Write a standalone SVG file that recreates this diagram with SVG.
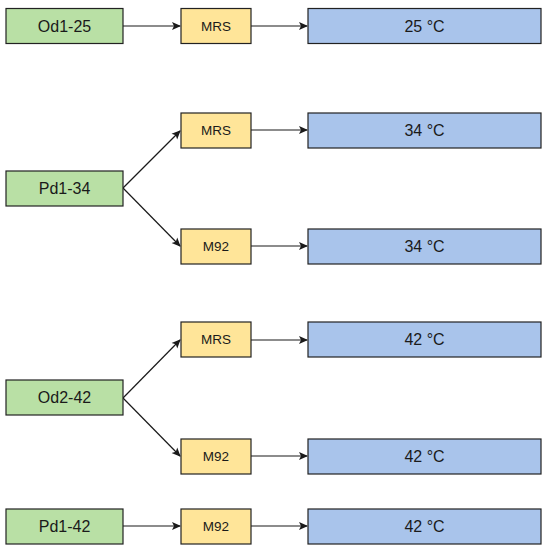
<svg xmlns="http://www.w3.org/2000/svg" width="550" height="549" viewBox="0 0 550 549">
<style>
.g{fill:#b9e0a5;stroke:#222;stroke-width:1.2}
.y{fill:#ffe599;stroke:#222;stroke-width:1.2}
.b{fill:#a9c4eb;stroke:#222;stroke-width:1.2}
.t{font-family:"Liberation Sans",Arial,sans-serif;font-size:16px;fill:#1a1a1a;text-anchor:middle;dominant-baseline:central}
.s{font-size:13.5px}
.c{stroke:#1a1a1a;stroke-width:1.2;fill:none;marker-end:url(#ah)}
</style>
<defs>
<marker id="ah" markerWidth="10" markerHeight="10" refX="8" refY="5" orient="auto" markerUnits="userSpaceOnUse">
<path d="M0,1 L9,5 L0,9 L2,5 Z" fill="#1a1a1a"/>
</marker>
</defs>
<rect width="550" height="549" fill="#fff"/>
<g id="connectors">
<line class="c" x1="123" y1="26" x2="180" y2="26"/>
<line class="c" x1="251" y1="26" x2="307" y2="26"/>
<line class="c" x1="123" y1="188" x2="180" y2="131"/>
<line class="c" x1="123" y1="188" x2="180" y2="246"/>
<line class="c" x1="251" y1="130" x2="307" y2="130"/>
<line class="c" x1="251" y1="246" x2="307" y2="246"/>
<line class="c" x1="123" y1="398" x2="180" y2="340"/>
<line class="c" x1="123" y1="398" x2="180" y2="456"/>
<line class="c" x1="251" y1="340" x2="307" y2="340"/>
<line class="c" x1="251" y1="456" x2="307" y2="456"/>
<line class="c" x1="123" y1="526" x2="180" y2="526"/>
<line class="c" x1="251" y1="526" x2="307" y2="526"/>
</g>
<g id="od1-25"><rect class="g" x="6" y="8.5" width="117" height="35"/><text class="t" x="64.5" y="26">Od1-25</text></g>
<g id="mrs1"><rect class="y" x="181" y="8.5" width="70" height="35"/><text class="t s" x="216" y="26">MRS</text></g>
<g id="t25"><rect class="b" x="308" y="8.5" width="233" height="35"/><text class="t" x="424.5" y="26">25 °C</text></g>

<g id="pd1-34"><rect class="g" x="6" y="171" width="117" height="35"/><text class="t" x="64.5" y="188.5">Pd1-34</text></g>
<g id="mrs2"><rect class="y" x="181" y="113" width="70" height="35"/><text class="t s" x="216" y="130.5">MRS</text></g>
<g id="t34a"><rect class="b" x="308" y="113" width="233" height="35"/><text class="t" x="424.5" y="130.5">34 °C</text></g>
<g id="m92a"><rect class="y" x="181" y="229" width="70" height="35"/><text class="t s" x="216" y="246.5">M92</text></g>
<g id="t34b"><rect class="b" x="308" y="229" width="233" height="35"/><text class="t" x="424.5" y="246.5">34 °C</text></g>

<g id="od2-42"><rect class="g" x="6" y="380" width="117" height="35"/><text class="t" x="64.5" y="397.5">Od2-42</text></g>
<g id="mrs3"><rect class="y" x="181" y="322" width="70" height="35"/><text class="t s" x="216" y="339.5">MRS</text></g>
<g id="t42a"><rect class="b" x="308" y="322" width="233" height="35"/><text class="t" x="424.5" y="339.5">42 °C</text></g>
<g id="m92b"><rect class="y" x="181" y="439" width="70" height="35"/><text class="t s" x="216" y="456.5">M92</text></g>
<g id="t42b"><rect class="b" x="308" y="439" width="233" height="35"/><text class="t" x="424.5" y="456.5">42 °C</text></g>

<g id="pd1-42"><rect class="g" x="6" y="509" width="117" height="35"/><text class="t" x="64.5" y="526.5">Pd1-42</text></g>
<g id="m92c"><rect class="y" x="181" y="509" width="70" height="35"/><text class="t s" x="216" y="526.5">M92</text></g>
<g id="t42c"><rect class="b" x="308" y="509" width="233" height="35"/><text class="t" x="424.5" y="526.5">42 °C</text></g>
</svg>
